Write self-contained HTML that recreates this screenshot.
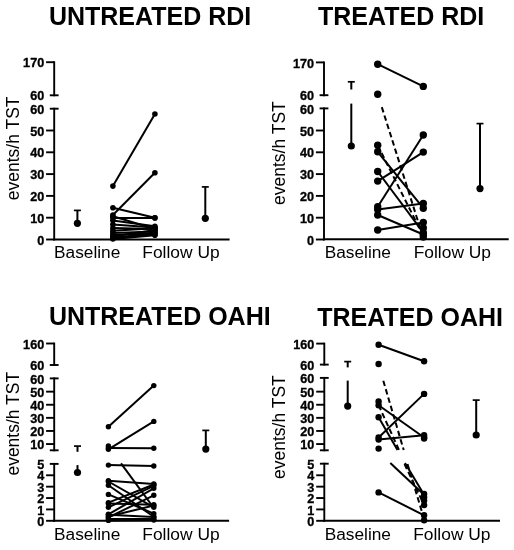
<!DOCTYPE html>
<html><head><meta charset="utf-8"><title>RDI and OAHI, untreated vs treated</title>
<style>
html,body{margin:0;padding:0;background:#fff;}
svg{display:block;}
text{fill:#000;}
</style></head>
<body>
<svg width="514" height="550" viewBox="0 0 514 550">
<rect width="514" height="550" fill="#fff"/>
<text x="48.90" y="25.10" font-size="25" font-family="Liberation Sans, Arial, Helvetica, sans-serif" font-weight="bold" text-anchor="start">UNTREATED RDI</text>
<text x="318.00" y="25.10" font-size="25" font-family="Liberation Sans, Arial, Helvetica, sans-serif" font-weight="bold" text-anchor="start">TREATED RDI</text>
<text x="48.90" y="325.30" font-size="25" font-family="Liberation Sans, Arial, Helvetica, sans-serif" font-weight="bold" text-anchor="start">UNTREATED OAHI</text>
<text x="317.30" y="325.50" font-size="25" font-family="Liberation Sans, Arial, Helvetica, sans-serif" font-weight="bold" text-anchor="start">TREATED OAHI</text>
<line x1="54.20" y1="61.25" x2="54.20" y2="96.25" stroke="#000" stroke-width="1.9" stroke-linecap="butt"/>
<line x1="54.20" y1="107.75" x2="54.20" y2="240.45" stroke="#000" stroke-width="1.9" stroke-linecap="butt"/>
<line x1="46.10" y1="62.20" x2="54.20" y2="62.20" stroke="#000" stroke-width="1.9" stroke-linecap="butt"/>
<text transform="translate(44.20 67.30) scale(0.95 1)" font-size="13.3" font-family="Liberation Sans, Arial, Helvetica, sans-serif" font-weight="bold" text-anchor="end" stroke="#000" stroke-width="0.35">170</text>
<line x1="46.10" y1="239.50" x2="54.20" y2="239.50" stroke="#000" stroke-width="1.9" stroke-linecap="butt"/>
<text transform="translate(44.20 244.60) scale(0.95 1)" font-size="13.3" font-family="Liberation Sans, Arial, Helvetica, sans-serif" font-weight="bold" text-anchor="end" stroke="#000" stroke-width="0.35">0</text>
<line x1="46.10" y1="217.70" x2="54.20" y2="217.70" stroke="#000" stroke-width="1.9" stroke-linecap="butt"/>
<text transform="translate(44.20 222.80) scale(0.95 1)" font-size="13.3" font-family="Liberation Sans, Arial, Helvetica, sans-serif" font-weight="bold" text-anchor="end" stroke="#000" stroke-width="0.35">10</text>
<line x1="46.10" y1="195.90" x2="54.20" y2="195.90" stroke="#000" stroke-width="1.9" stroke-linecap="butt"/>
<text transform="translate(44.20 201.00) scale(0.95 1)" font-size="13.3" font-family="Liberation Sans, Arial, Helvetica, sans-serif" font-weight="bold" text-anchor="end" stroke="#000" stroke-width="0.35">20</text>
<line x1="46.10" y1="174.10" x2="54.20" y2="174.10" stroke="#000" stroke-width="1.9" stroke-linecap="butt"/>
<text transform="translate(44.20 179.20) scale(0.95 1)" font-size="13.3" font-family="Liberation Sans, Arial, Helvetica, sans-serif" font-weight="bold" text-anchor="end" stroke="#000" stroke-width="0.35">30</text>
<line x1="46.10" y1="152.30" x2="54.20" y2="152.30" stroke="#000" stroke-width="1.9" stroke-linecap="butt"/>
<text transform="translate(44.20 157.40) scale(0.95 1)" font-size="13.3" font-family="Liberation Sans, Arial, Helvetica, sans-serif" font-weight="bold" text-anchor="end" stroke="#000" stroke-width="0.35">40</text>
<line x1="46.10" y1="130.50" x2="54.20" y2="130.50" stroke="#000" stroke-width="1.9" stroke-linecap="butt"/>
<text transform="translate(44.20 135.60) scale(0.95 1)" font-size="13.3" font-family="Liberation Sans, Arial, Helvetica, sans-serif" font-weight="bold" text-anchor="end" stroke="#000" stroke-width="0.35">50</text>
<line x1="49.80" y1="95.30" x2="58.60" y2="95.30" stroke="#000" stroke-width="1.9" stroke-linecap="butt"/>
<text transform="translate(44.20 100.40) scale(0.95 1)" font-size="13.3" font-family="Liberation Sans, Arial, Helvetica, sans-serif" font-weight="bold" text-anchor="end" stroke="#000" stroke-width="0.35">60</text>
<line x1="49.80" y1="108.70" x2="58.60" y2="108.70" stroke="#000" stroke-width="1.9" stroke-linecap="butt"/>
<text transform="translate(44.20 113.80) scale(0.95 1)" font-size="13.3" font-family="Liberation Sans, Arial, Helvetica, sans-serif" font-weight="bold" text-anchor="end" stroke="#000" stroke-width="0.35">60</text>
<line x1="53.25" y1="239.50" x2="229.60" y2="239.50" stroke="#000" stroke-width="1.9" stroke-linecap="butt"/>
<text x="19.30" y="200.20" font-size="17.5" font-family="Liberation Sans, Arial, Helvetica, sans-serif" text-anchor="start" transform="rotate(-90 19.30 200.20)">events/h TST</text>
<text x="54.00" y="258.00" font-size="17.3" font-family="Liberation Sans, Arial, Helvetica, sans-serif" text-anchor="start">Baseline</text>
<text x="142.30" y="258.00" font-size="17.4" font-family="Liberation Sans, Arial, Helvetica, sans-serif" text-anchor="start">Follow Up</text>
<line x1="112.90" y1="186.10" x2="154.90" y2="114.00" stroke="#000" stroke-width="2.0" stroke-linecap="butt"/>
<circle cx="112.90" cy="186.10" r="2.8" fill="#000"/>
<circle cx="154.90" cy="114.00" r="2.8" fill="#000"/>
<line x1="112.90" y1="207.80" x2="154.90" y2="217.70" stroke="#000" stroke-width="2.0" stroke-linecap="butt"/>
<circle cx="112.90" cy="207.80" r="2.8" fill="#000"/>
<circle cx="154.90" cy="217.70" r="2.8" fill="#000"/>
<line x1="112.90" y1="215.00" x2="154.90" y2="172.80" stroke="#000" stroke-width="2.0" stroke-linecap="butt"/>
<circle cx="112.90" cy="215.00" r="2.8" fill="#000"/>
<circle cx="154.90" cy="172.80" r="2.8" fill="#000"/>
<line x1="112.90" y1="216.20" x2="154.90" y2="229.00" stroke="#000" stroke-width="2.0" stroke-linecap="butt"/>
<circle cx="112.90" cy="216.20" r="2.8" fill="#000"/>
<circle cx="154.90" cy="229.00" r="2.8" fill="#000"/>
<line x1="112.90" y1="218.00" x2="154.90" y2="217.90" stroke="#000" stroke-width="2.0" stroke-linecap="butt"/>
<circle cx="112.90" cy="218.00" r="2.8" fill="#000"/>
<circle cx="154.90" cy="217.90" r="2.8" fill="#000"/>
<line x1="112.90" y1="220.60" x2="154.90" y2="226.30" stroke="#000" stroke-width="2.0" stroke-linecap="butt"/>
<circle cx="112.90" cy="220.60" r="2.8" fill="#000"/>
<circle cx="154.90" cy="226.30" r="2.8" fill="#000"/>
<line x1="112.90" y1="224.60" x2="154.90" y2="227.60" stroke="#000" stroke-width="2.0" stroke-linecap="butt"/>
<circle cx="112.90" cy="224.60" r="2.8" fill="#000"/>
<circle cx="154.90" cy="227.60" r="2.8" fill="#000"/>
<line x1="112.90" y1="228.00" x2="154.90" y2="229.00" stroke="#000" stroke-width="2.0" stroke-linecap="butt"/>
<circle cx="112.90" cy="228.00" r="2.8" fill="#000"/>
<circle cx="154.90" cy="229.00" r="2.8" fill="#000"/>
<line x1="112.90" y1="230.80" x2="154.90" y2="228.20" stroke="#000" stroke-width="2.0" stroke-linecap="butt"/>
<circle cx="112.90" cy="230.80" r="2.8" fill="#000"/>
<circle cx="154.90" cy="228.20" r="2.8" fill="#000"/>
<line x1="112.90" y1="233.00" x2="154.90" y2="231.50" stroke="#000" stroke-width="2.0" stroke-linecap="butt"/>
<circle cx="112.90" cy="233.00" r="2.8" fill="#000"/>
<circle cx="154.90" cy="231.50" r="2.8" fill="#000"/>
<line x1="112.90" y1="235.00" x2="154.90" y2="233.00" stroke="#000" stroke-width="2.0" stroke-linecap="butt"/>
<circle cx="112.90" cy="235.00" r="2.8" fill="#000"/>
<circle cx="154.90" cy="233.00" r="2.8" fill="#000"/>
<line x1="112.90" y1="236.50" x2="154.90" y2="230.00" stroke="#000" stroke-width="2.0" stroke-linecap="butt"/>
<circle cx="112.90" cy="236.50" r="2.8" fill="#000"/>
<circle cx="154.90" cy="230.00" r="2.8" fill="#000"/>
<line x1="112.90" y1="237.50" x2="154.90" y2="234.50" stroke="#000" stroke-width="2.0" stroke-linecap="butt"/>
<circle cx="112.90" cy="237.50" r="2.8" fill="#000"/>
<circle cx="154.90" cy="234.50" r="2.8" fill="#000"/>
<line x1="112.90" y1="238.50" x2="154.90" y2="232.50" stroke="#000" stroke-width="2.0" stroke-linecap="butt"/>
<circle cx="112.90" cy="238.50" r="2.8" fill="#000"/>
<circle cx="154.90" cy="232.50" r="2.8" fill="#000"/>
<line x1="112.90" y1="239.00" x2="154.90" y2="235.30" stroke="#000" stroke-width="2.0" stroke-linecap="butt"/>
<circle cx="112.90" cy="239.00" r="2.8" fill="#000"/>
<circle cx="154.90" cy="235.30" r="2.8" fill="#000"/>
<line x1="77.40" y1="210.40" x2="77.40" y2="223.30" stroke="#000" stroke-width="2.0" stroke-linecap="butt"/>
<line x1="73.90" y1="210.40" x2="80.90" y2="210.40" stroke="#000" stroke-width="1.7" stroke-linecap="butt"/>
<circle cx="77.40" cy="223.30" r="3.6" fill="#000"/>
<line x1="205.30" y1="186.90" x2="205.30" y2="218.30" stroke="#000" stroke-width="2.0" stroke-linecap="butt"/>
<line x1="201.80" y1="186.90" x2="208.80" y2="186.90" stroke="#000" stroke-width="1.7" stroke-linecap="butt"/>
<circle cx="205.30" cy="218.30" r="3.6" fill="#000"/>
<line x1="324.00" y1="61.45" x2="324.00" y2="96.15" stroke="#000" stroke-width="1.9" stroke-linecap="butt"/>
<line x1="324.00" y1="107.45" x2="324.00" y2="240.45" stroke="#000" stroke-width="1.9" stroke-linecap="butt"/>
<line x1="315.90" y1="62.40" x2="324.00" y2="62.40" stroke="#000" stroke-width="1.9" stroke-linecap="butt"/>
<text transform="translate(314.00 67.50) scale(0.95 1)" font-size="13.3" font-family="Liberation Sans, Arial, Helvetica, sans-serif" font-weight="bold" text-anchor="end" stroke="#000" stroke-width="0.35">170</text>
<line x1="315.90" y1="239.50" x2="324.00" y2="239.50" stroke="#000" stroke-width="1.9" stroke-linecap="butt"/>
<text transform="translate(314.00 244.60) scale(0.95 1)" font-size="13.3" font-family="Liberation Sans, Arial, Helvetica, sans-serif" font-weight="bold" text-anchor="end" stroke="#000" stroke-width="0.35">0</text>
<line x1="315.90" y1="217.70" x2="324.00" y2="217.70" stroke="#000" stroke-width="1.9" stroke-linecap="butt"/>
<text transform="translate(314.00 222.80) scale(0.95 1)" font-size="13.3" font-family="Liberation Sans, Arial, Helvetica, sans-serif" font-weight="bold" text-anchor="end" stroke="#000" stroke-width="0.35">10</text>
<line x1="315.90" y1="195.90" x2="324.00" y2="195.90" stroke="#000" stroke-width="1.9" stroke-linecap="butt"/>
<text transform="translate(314.00 201.00) scale(0.95 1)" font-size="13.3" font-family="Liberation Sans, Arial, Helvetica, sans-serif" font-weight="bold" text-anchor="end" stroke="#000" stroke-width="0.35">20</text>
<line x1="315.90" y1="174.10" x2="324.00" y2="174.10" stroke="#000" stroke-width="1.9" stroke-linecap="butt"/>
<text transform="translate(314.00 179.20) scale(0.95 1)" font-size="13.3" font-family="Liberation Sans, Arial, Helvetica, sans-serif" font-weight="bold" text-anchor="end" stroke="#000" stroke-width="0.35">30</text>
<line x1="315.90" y1="152.30" x2="324.00" y2="152.30" stroke="#000" stroke-width="1.9" stroke-linecap="butt"/>
<text transform="translate(314.00 157.40) scale(0.95 1)" font-size="13.3" font-family="Liberation Sans, Arial, Helvetica, sans-serif" font-weight="bold" text-anchor="end" stroke="#000" stroke-width="0.35">40</text>
<line x1="315.90" y1="130.50" x2="324.00" y2="130.50" stroke="#000" stroke-width="1.9" stroke-linecap="butt"/>
<text transform="translate(314.00 135.60) scale(0.95 1)" font-size="13.3" font-family="Liberation Sans, Arial, Helvetica, sans-serif" font-weight="bold" text-anchor="end" stroke="#000" stroke-width="0.35">50</text>
<line x1="319.60" y1="95.20" x2="328.40" y2="95.20" stroke="#000" stroke-width="1.9" stroke-linecap="butt"/>
<text transform="translate(314.00 100.30) scale(0.95 1)" font-size="13.3" font-family="Liberation Sans, Arial, Helvetica, sans-serif" font-weight="bold" text-anchor="end" stroke="#000" stroke-width="0.35">60</text>
<line x1="319.60" y1="108.40" x2="328.40" y2="108.40" stroke="#000" stroke-width="1.9" stroke-linecap="butt"/>
<text transform="translate(314.00 113.50) scale(0.95 1)" font-size="13.3" font-family="Liberation Sans, Arial, Helvetica, sans-serif" font-weight="bold" text-anchor="end" stroke="#000" stroke-width="0.35">60</text>
<line x1="323.05" y1="239.30" x2="508.70" y2="239.30" stroke="#000" stroke-width="1.9" stroke-linecap="butt"/>
<text x="284.50" y="205.00" font-size="17.5" font-family="Liberation Sans, Arial, Helvetica, sans-serif" text-anchor="start" transform="rotate(-90 284.50 205.00)">events/h TST</text>
<text x="324.70" y="257.80" font-size="17.3" font-family="Liberation Sans, Arial, Helvetica, sans-serif" text-anchor="start">Baseline</text>
<text x="413.70" y="257.80" font-size="17.4" font-family="Liberation Sans, Arial, Helvetica, sans-serif" text-anchor="start">Follow Up</text>
<line x1="377.70" y1="64.20" x2="423.30" y2="86.40" stroke="#000" stroke-width="2.0" stroke-linecap="butt"/>
<circle cx="377.70" cy="64.20" r="3.7" fill="#000"/>
<circle cx="423.30" cy="86.40" r="3.7" fill="#000"/>
<line x1="377.70" y1="151.80" x2="423.30" y2="208.20" stroke="#000" stroke-width="2.0" stroke-linecap="butt"/>
<circle cx="377.70" cy="151.80" r="3.7" fill="#000"/>
<circle cx="423.30" cy="208.20" r="3.7" fill="#000"/>
<line x1="377.70" y1="171.50" x2="423.30" y2="232.70" stroke="#000" stroke-width="2.0" stroke-linecap="butt"/>
<circle cx="377.70" cy="171.50" r="3.7" fill="#000"/>
<circle cx="423.30" cy="232.70" r="3.7" fill="#000"/>
<line x1="377.70" y1="181.10" x2="423.30" y2="152.10" stroke="#000" stroke-width="2.0" stroke-linecap="butt"/>
<circle cx="377.70" cy="181.10" r="3.7" fill="#000"/>
<circle cx="423.30" cy="152.10" r="3.7" fill="#000"/>
<line x1="377.70" y1="206.80" x2="423.30" y2="135.00" stroke="#000" stroke-width="2.0" stroke-linecap="butt"/>
<circle cx="377.70" cy="206.80" r="3.7" fill="#000"/>
<circle cx="423.30" cy="135.00" r="3.7" fill="#000"/>
<line x1="377.70" y1="209.50" x2="423.30" y2="203.40" stroke="#000" stroke-width="2.0" stroke-linecap="butt"/>
<circle cx="377.70" cy="209.50" r="3.7" fill="#000"/>
<circle cx="423.30" cy="203.40" r="3.7" fill="#000"/>
<line x1="377.70" y1="215.00" x2="423.30" y2="234.50" stroke="#000" stroke-width="2.0" stroke-linecap="butt"/>
<circle cx="377.70" cy="215.00" r="3.7" fill="#000"/>
<circle cx="423.30" cy="234.50" r="3.7" fill="#000"/>
<line x1="377.70" y1="230.00" x2="423.30" y2="222.50" stroke="#000" stroke-width="2.0" stroke-linecap="butt"/>
<circle cx="377.70" cy="230.00" r="3.7" fill="#000"/>
<circle cx="423.30" cy="222.50" r="3.7" fill="#000"/>
<circle cx="377.70" cy="94.20" r="3.7" fill="#000"/>
<circle cx="423.30" cy="237.00" r="3.7" fill="#000"/>
<line x1="381.80" y1="107.14" x2="423.30" y2="238.00" stroke="#000" stroke-width="2.0" stroke-linecap="butt" stroke-dasharray="5.5 3.2"/>
<circle cx="377.70" cy="145.30" r="3.7" fill="#000"/>
<circle cx="423.30" cy="228.00" r="3.7" fill="#000"/>
<line x1="377.70" y1="145.30" x2="423.30" y2="236.00" stroke="#000" stroke-width="2.0" stroke-linecap="butt" stroke-dasharray="5.5 3.2"/>
<line x1="351.30" y1="81.80" x2="351.30" y2="89.50" stroke="#000" stroke-width="2.0" stroke-linecap="butt"/>
<line x1="351.30" y1="103.60" x2="351.30" y2="146.00" stroke="#000" stroke-width="2.0" stroke-linecap="butt"/>
<line x1="347.80" y1="81.80" x2="354.80" y2="81.80" stroke="#000" stroke-width="1.7" stroke-linecap="butt"/>
<circle cx="351.30" cy="146.00" r="3.6" fill="#000"/>
<line x1="480.00" y1="123.60" x2="480.00" y2="188.60" stroke="#000" stroke-width="2.0" stroke-linecap="butt"/>
<line x1="476.50" y1="123.60" x2="483.50" y2="123.60" stroke="#000" stroke-width="1.7" stroke-linecap="butt"/>
<circle cx="480.00" cy="188.60" r="3.6" fill="#000"/>
<line x1="54.20" y1="342.55" x2="54.20" y2="365.95" stroke="#000" stroke-width="1.9" stroke-linecap="butt"/>
<line x1="54.20" y1="377.45" x2="54.20" y2="451.25" stroke="#000" stroke-width="1.9" stroke-linecap="butt"/>
<line x1="54.20" y1="462.95" x2="54.20" y2="521.75" stroke="#000" stroke-width="1.9" stroke-linecap="butt"/>
<line x1="46.10" y1="343.50" x2="54.20" y2="343.50" stroke="#000" stroke-width="1.9" stroke-linecap="butt"/>
<text transform="translate(44.20 348.60) scale(0.95 1)" font-size="13.3" font-family="Liberation Sans, Arial, Helvetica, sans-serif" font-weight="bold" text-anchor="end" stroke="#000" stroke-width="0.35">160</text>
<line x1="46.10" y1="444.05" x2="54.20" y2="444.05" stroke="#000" stroke-width="1.9" stroke-linecap="butt"/>
<text transform="translate(44.20 449.15) scale(0.95 1)" font-size="13.3" font-family="Liberation Sans, Arial, Helvetica, sans-serif" font-weight="bold" text-anchor="end" stroke="#000" stroke-width="0.35">10</text>
<line x1="46.10" y1="430.95" x2="54.20" y2="430.95" stroke="#000" stroke-width="1.9" stroke-linecap="butt"/>
<text transform="translate(44.20 436.05) scale(0.95 1)" font-size="13.3" font-family="Liberation Sans, Arial, Helvetica, sans-serif" font-weight="bold" text-anchor="end" stroke="#000" stroke-width="0.35">20</text>
<line x1="46.10" y1="417.85" x2="54.20" y2="417.85" stroke="#000" stroke-width="1.9" stroke-linecap="butt"/>
<text transform="translate(44.20 422.95) scale(0.95 1)" font-size="13.3" font-family="Liberation Sans, Arial, Helvetica, sans-serif" font-weight="bold" text-anchor="end" stroke="#000" stroke-width="0.35">30</text>
<line x1="46.10" y1="404.75" x2="54.20" y2="404.75" stroke="#000" stroke-width="1.9" stroke-linecap="butt"/>
<text transform="translate(44.20 409.85) scale(0.95 1)" font-size="13.3" font-family="Liberation Sans, Arial, Helvetica, sans-serif" font-weight="bold" text-anchor="end" stroke="#000" stroke-width="0.35">40</text>
<line x1="46.10" y1="391.65" x2="54.20" y2="391.65" stroke="#000" stroke-width="1.9" stroke-linecap="butt"/>
<text transform="translate(44.20 396.75) scale(0.95 1)" font-size="13.3" font-family="Liberation Sans, Arial, Helvetica, sans-serif" font-weight="bold" text-anchor="end" stroke="#000" stroke-width="0.35">50</text>
<line x1="46.10" y1="520.80" x2="54.20" y2="520.80" stroke="#000" stroke-width="1.9" stroke-linecap="butt"/>
<text transform="translate(44.20 525.90) scale(0.95 1)" font-size="13.3" font-family="Liberation Sans, Arial, Helvetica, sans-serif" font-weight="bold" text-anchor="end" stroke="#000" stroke-width="0.35">0</text>
<line x1="46.10" y1="509.42" x2="54.20" y2="509.42" stroke="#000" stroke-width="1.9" stroke-linecap="butt"/>
<text transform="translate(44.20 514.52) scale(0.95 1)" font-size="13.3" font-family="Liberation Sans, Arial, Helvetica, sans-serif" font-weight="bold" text-anchor="end" stroke="#000" stroke-width="0.35">1</text>
<line x1="46.10" y1="498.04" x2="54.20" y2="498.04" stroke="#000" stroke-width="1.9" stroke-linecap="butt"/>
<text transform="translate(44.20 503.14) scale(0.95 1)" font-size="13.3" font-family="Liberation Sans, Arial, Helvetica, sans-serif" font-weight="bold" text-anchor="end" stroke="#000" stroke-width="0.35">2</text>
<line x1="46.10" y1="486.66" x2="54.20" y2="486.66" stroke="#000" stroke-width="1.9" stroke-linecap="butt"/>
<text transform="translate(44.20 491.76) scale(0.95 1)" font-size="13.3" font-family="Liberation Sans, Arial, Helvetica, sans-serif" font-weight="bold" text-anchor="end" stroke="#000" stroke-width="0.35">3</text>
<line x1="46.10" y1="475.28" x2="54.20" y2="475.28" stroke="#000" stroke-width="1.9" stroke-linecap="butt"/>
<text transform="translate(44.20 480.38) scale(0.95 1)" font-size="13.3" font-family="Liberation Sans, Arial, Helvetica, sans-serif" font-weight="bold" text-anchor="end" stroke="#000" stroke-width="0.35">4</text>
<line x1="49.80" y1="365.00" x2="58.60" y2="365.00" stroke="#000" stroke-width="1.9" stroke-linecap="butt"/>
<text transform="translate(44.20 370.10) scale(0.95 1)" font-size="13.3" font-family="Liberation Sans, Arial, Helvetica, sans-serif" font-weight="bold" text-anchor="end" stroke="#000" stroke-width="0.35">60</text>
<line x1="49.80" y1="378.40" x2="58.60" y2="378.40" stroke="#000" stroke-width="1.9" stroke-linecap="butt"/>
<text transform="translate(44.20 383.50) scale(0.95 1)" font-size="13.3" font-family="Liberation Sans, Arial, Helvetica, sans-serif" font-weight="bold" text-anchor="end" stroke="#000" stroke-width="0.35">60</text>
<line x1="49.80" y1="450.30" x2="58.60" y2="450.30" stroke="#000" stroke-width="1.9" stroke-linecap="butt"/>
<line x1="49.80" y1="463.90" x2="58.60" y2="463.90" stroke="#000" stroke-width="1.9" stroke-linecap="butt"/>
<text transform="translate(44.20 469.00) scale(0.95 1)" font-size="13.3" font-family="Liberation Sans, Arial, Helvetica, sans-serif" font-weight="bold" text-anchor="end" stroke="#000" stroke-width="0.35">5</text>
<line x1="53.25" y1="520.80" x2="229.10" y2="520.80" stroke="#000" stroke-width="1.9" stroke-linecap="butt"/>
<text x="19.30" y="475.60" font-size="17.5" font-family="Liberation Sans, Arial, Helvetica, sans-serif" text-anchor="start" transform="rotate(-90 19.30 475.60)">events/h TST</text>
<text x="54.00" y="540.20" font-size="17.3" font-family="Liberation Sans, Arial, Helvetica, sans-serif" text-anchor="start">Baseline</text>
<text x="142.30" y="540.20" font-size="17.4" font-family="Liberation Sans, Arial, Helvetica, sans-serif" text-anchor="start">Follow Up</text>
<line x1="108.40" y1="426.70" x2="153.80" y2="385.60" stroke="#000" stroke-width="2.0" stroke-linecap="butt"/>
<circle cx="108.40" cy="426.70" r="2.7" fill="#000"/>
<circle cx="153.80" cy="385.60" r="2.7" fill="#000"/>
<line x1="108.40" y1="449.30" x2="153.80" y2="421.40" stroke="#000" stroke-width="2.0" stroke-linecap="butt"/>
<circle cx="108.40" cy="449.30" r="2.7" fill="#000"/>
<circle cx="153.80" cy="421.40" r="2.7" fill="#000"/>
<line x1="108.40" y1="448.00" x2="153.80" y2="448.20" stroke="#000" stroke-width="2.0" stroke-linecap="butt"/>
<circle cx="108.40" cy="448.00" r="2.7" fill="#000"/>
<circle cx="153.80" cy="448.20" r="2.7" fill="#000"/>
<line x1="108.40" y1="465.10" x2="153.80" y2="466.00" stroke="#000" stroke-width="2.0" stroke-linecap="butt"/>
<circle cx="108.40" cy="465.10" r="2.7" fill="#000"/>
<circle cx="153.80" cy="466.00" r="2.7" fill="#000"/>
<line x1="108.40" y1="480.70" x2="153.80" y2="483.90" stroke="#000" stroke-width="2.0" stroke-linecap="butt"/>
<circle cx="108.40" cy="480.70" r="2.7" fill="#000"/>
<circle cx="153.80" cy="483.90" r="2.7" fill="#000"/>
<line x1="108.40" y1="481.50" x2="153.80" y2="507.30" stroke="#000" stroke-width="2.0" stroke-linecap="butt"/>
<circle cx="108.40" cy="481.50" r="2.7" fill="#000"/>
<circle cx="153.80" cy="507.30" r="2.7" fill="#000"/>
<line x1="108.40" y1="485.20" x2="153.80" y2="516.80" stroke="#000" stroke-width="2.0" stroke-linecap="butt"/>
<circle cx="108.40" cy="485.20" r="2.7" fill="#000"/>
<circle cx="153.80" cy="516.80" r="2.7" fill="#000"/>
<line x1="108.40" y1="494.40" x2="153.80" y2="513.60" stroke="#000" stroke-width="2.0" stroke-linecap="butt"/>
<circle cx="108.40" cy="494.40" r="2.7" fill="#000"/>
<circle cx="153.80" cy="513.60" r="2.7" fill="#000"/>
<line x1="108.40" y1="502.60" x2="153.80" y2="484.50" stroke="#000" stroke-width="2.0" stroke-linecap="butt"/>
<circle cx="108.40" cy="502.60" r="2.7" fill="#000"/>
<circle cx="153.80" cy="484.50" r="2.7" fill="#000"/>
<line x1="108.40" y1="507.30" x2="153.80" y2="485.80" stroke="#000" stroke-width="2.0" stroke-linecap="butt"/>
<circle cx="108.40" cy="507.30" r="2.7" fill="#000"/>
<circle cx="153.80" cy="485.80" r="2.7" fill="#000"/>
<line x1="108.40" y1="503.50" x2="153.80" y2="504.80" stroke="#000" stroke-width="2.0" stroke-linecap="butt"/>
<circle cx="108.40" cy="503.50" r="2.7" fill="#000"/>
<circle cx="153.80" cy="504.80" r="2.7" fill="#000"/>
<line x1="108.40" y1="514.30" x2="153.80" y2="488.30" stroke="#000" stroke-width="2.0" stroke-linecap="butt"/>
<circle cx="108.40" cy="514.30" r="2.7" fill="#000"/>
<circle cx="153.80" cy="488.30" r="2.7" fill="#000"/>
<line x1="108.40" y1="517.40" x2="153.80" y2="495.30" stroke="#000" stroke-width="2.0" stroke-linecap="butt"/>
<circle cx="108.40" cy="517.40" r="2.7" fill="#000"/>
<circle cx="153.80" cy="495.30" r="2.7" fill="#000"/>
<line x1="108.40" y1="516.50" x2="153.80" y2="505.50" stroke="#000" stroke-width="2.0" stroke-linecap="butt"/>
<circle cx="108.40" cy="516.50" r="2.7" fill="#000"/>
<circle cx="153.80" cy="505.50" r="2.7" fill="#000"/>
<line x1="108.40" y1="520.40" x2="153.80" y2="520.00" stroke="#000" stroke-width="2.0" stroke-linecap="butt"/>
<circle cx="108.40" cy="520.40" r="2.7" fill="#000"/>
<circle cx="153.80" cy="520.00" r="2.7" fill="#000"/>
<line x1="108.40" y1="514.80" x2="153.80" y2="517.00" stroke="#000" stroke-width="2.0" stroke-linecap="butt"/>
<circle cx="108.40" cy="514.80" r="2.7" fill="#000"/>
<circle cx="153.80" cy="517.00" r="2.7" fill="#000"/>
<line x1="108.40" y1="519.00" x2="153.80" y2="519.00" stroke="#000" stroke-width="2.0" stroke-linecap="butt"/>
<circle cx="108.40" cy="519.00" r="2.7" fill="#000"/>
<circle cx="153.80" cy="519.00" r="2.7" fill="#000"/>
<line x1="121.00" y1="463.30" x2="153.80" y2="508.00" stroke="#000" stroke-width="2.0" stroke-linecap="butt"/>
<circle cx="108.40" cy="446.00" r="2.7" fill="#000"/>
<line x1="77.50" y1="446.10" x2="77.50" y2="451.80" stroke="#000" stroke-width="2.0" stroke-linecap="butt"/>
<line x1="77.50" y1="465.10" x2="77.50" y2="472.50" stroke="#000" stroke-width="2.0" stroke-linecap="butt"/>
<line x1="74.00" y1="446.10" x2="81.00" y2="446.10" stroke="#000" stroke-width="1.7" stroke-linecap="butt"/>
<circle cx="77.50" cy="472.50" r="3.6" fill="#000"/>
<line x1="205.80" y1="430.40" x2="205.80" y2="449.10" stroke="#000" stroke-width="2.0" stroke-linecap="butt"/>
<line x1="202.30" y1="430.40" x2="209.30" y2="430.40" stroke="#000" stroke-width="1.7" stroke-linecap="butt"/>
<circle cx="205.80" cy="449.10" r="3.6" fill="#000"/>
<line x1="324.30" y1="342.65" x2="324.30" y2="365.55" stroke="#000" stroke-width="1.9" stroke-linecap="butt"/>
<line x1="324.30" y1="376.95" x2="324.30" y2="451.25" stroke="#000" stroke-width="1.9" stroke-linecap="butt"/>
<line x1="324.30" y1="462.75" x2="324.30" y2="521.75" stroke="#000" stroke-width="1.9" stroke-linecap="butt"/>
<line x1="316.20" y1="343.60" x2="324.30" y2="343.60" stroke="#000" stroke-width="1.9" stroke-linecap="butt"/>
<text transform="translate(314.30 348.70) scale(0.95 1)" font-size="13.3" font-family="Liberation Sans, Arial, Helvetica, sans-serif" font-weight="bold" text-anchor="end" stroke="#000" stroke-width="0.35">160</text>
<line x1="316.20" y1="444.05" x2="324.30" y2="444.05" stroke="#000" stroke-width="1.9" stroke-linecap="butt"/>
<text transform="translate(314.30 449.15) scale(0.95 1)" font-size="13.3" font-family="Liberation Sans, Arial, Helvetica, sans-serif" font-weight="bold" text-anchor="end" stroke="#000" stroke-width="0.35">10</text>
<line x1="316.20" y1="430.95" x2="324.30" y2="430.95" stroke="#000" stroke-width="1.9" stroke-linecap="butt"/>
<text transform="translate(314.30 436.05) scale(0.95 1)" font-size="13.3" font-family="Liberation Sans, Arial, Helvetica, sans-serif" font-weight="bold" text-anchor="end" stroke="#000" stroke-width="0.35">20</text>
<line x1="316.20" y1="417.85" x2="324.30" y2="417.85" stroke="#000" stroke-width="1.9" stroke-linecap="butt"/>
<text transform="translate(314.30 422.95) scale(0.95 1)" font-size="13.3" font-family="Liberation Sans, Arial, Helvetica, sans-serif" font-weight="bold" text-anchor="end" stroke="#000" stroke-width="0.35">30</text>
<line x1="316.20" y1="404.75" x2="324.30" y2="404.75" stroke="#000" stroke-width="1.9" stroke-linecap="butt"/>
<text transform="translate(314.30 409.85) scale(0.95 1)" font-size="13.3" font-family="Liberation Sans, Arial, Helvetica, sans-serif" font-weight="bold" text-anchor="end" stroke="#000" stroke-width="0.35">40</text>
<line x1="316.20" y1="391.65" x2="324.30" y2="391.65" stroke="#000" stroke-width="1.9" stroke-linecap="butt"/>
<text transform="translate(314.30 396.75) scale(0.95 1)" font-size="13.3" font-family="Liberation Sans, Arial, Helvetica, sans-serif" font-weight="bold" text-anchor="end" stroke="#000" stroke-width="0.35">50</text>
<line x1="316.20" y1="520.80" x2="324.30" y2="520.80" stroke="#000" stroke-width="1.9" stroke-linecap="butt"/>
<text transform="translate(314.30 525.90) scale(0.95 1)" font-size="13.3" font-family="Liberation Sans, Arial, Helvetica, sans-serif" font-weight="bold" text-anchor="end" stroke="#000" stroke-width="0.35">0</text>
<line x1="316.20" y1="509.42" x2="324.30" y2="509.42" stroke="#000" stroke-width="1.9" stroke-linecap="butt"/>
<text transform="translate(314.30 514.52) scale(0.95 1)" font-size="13.3" font-family="Liberation Sans, Arial, Helvetica, sans-serif" font-weight="bold" text-anchor="end" stroke="#000" stroke-width="0.35">1</text>
<line x1="316.20" y1="498.04" x2="324.30" y2="498.04" stroke="#000" stroke-width="1.9" stroke-linecap="butt"/>
<text transform="translate(314.30 503.14) scale(0.95 1)" font-size="13.3" font-family="Liberation Sans, Arial, Helvetica, sans-serif" font-weight="bold" text-anchor="end" stroke="#000" stroke-width="0.35">2</text>
<line x1="316.20" y1="486.66" x2="324.30" y2="486.66" stroke="#000" stroke-width="1.9" stroke-linecap="butt"/>
<text transform="translate(314.30 491.76) scale(0.95 1)" font-size="13.3" font-family="Liberation Sans, Arial, Helvetica, sans-serif" font-weight="bold" text-anchor="end" stroke="#000" stroke-width="0.35">3</text>
<line x1="316.20" y1="475.28" x2="324.30" y2="475.28" stroke="#000" stroke-width="1.9" stroke-linecap="butt"/>
<text transform="translate(314.30 480.38) scale(0.95 1)" font-size="13.3" font-family="Liberation Sans, Arial, Helvetica, sans-serif" font-weight="bold" text-anchor="end" stroke="#000" stroke-width="0.35">4</text>
<line x1="319.90" y1="364.60" x2="328.70" y2="364.60" stroke="#000" stroke-width="1.9" stroke-linecap="butt"/>
<text transform="translate(314.30 369.70) scale(0.95 1)" font-size="13.3" font-family="Liberation Sans, Arial, Helvetica, sans-serif" font-weight="bold" text-anchor="end" stroke="#000" stroke-width="0.35">60</text>
<line x1="319.90" y1="377.90" x2="328.70" y2="377.90" stroke="#000" stroke-width="1.9" stroke-linecap="butt"/>
<text transform="translate(314.30 383.00) scale(0.95 1)" font-size="13.3" font-family="Liberation Sans, Arial, Helvetica, sans-serif" font-weight="bold" text-anchor="end" stroke="#000" stroke-width="0.35">60</text>
<line x1="319.90" y1="450.30" x2="328.70" y2="450.30" stroke="#000" stroke-width="1.9" stroke-linecap="butt"/>
<line x1="319.90" y1="463.70" x2="328.70" y2="463.70" stroke="#000" stroke-width="1.9" stroke-linecap="butt"/>
<text transform="translate(314.30 468.80) scale(0.95 1)" font-size="13.3" font-family="Liberation Sans, Arial, Helvetica, sans-serif" font-weight="bold" text-anchor="end" stroke="#000" stroke-width="0.35">5</text>
<line x1="323.35" y1="520.70" x2="500.00" y2="520.70" stroke="#000" stroke-width="1.9" stroke-linecap="butt"/>
<text x="284.70" y="479.00" font-size="17.5" font-family="Liberation Sans, Arial, Helvetica, sans-serif" text-anchor="start" transform="rotate(-90 284.70 479.00)">events/h TST</text>
<text x="324.70" y="540.20" font-size="17.3" font-family="Liberation Sans, Arial, Helvetica, sans-serif" text-anchor="start">Baseline</text>
<text x="413.20" y="540.20" font-size="17.4" font-family="Liberation Sans, Arial, Helvetica, sans-serif" text-anchor="start">Follow Up</text>
<line x1="378.60" y1="344.80" x2="424.10" y2="361.20" stroke="#000" stroke-width="2.0" stroke-linecap="butt"/>
<circle cx="378.60" cy="344.80" r="3.2" fill="#000"/>
<circle cx="424.10" cy="361.20" r="3.2" fill="#000"/>
<line x1="378.60" y1="405.20" x2="424.10" y2="437.50" stroke="#000" stroke-width="2.0" stroke-linecap="butt"/>
<circle cx="378.60" cy="405.20" r="3.2" fill="#000"/>
<circle cx="424.10" cy="437.50" r="3.2" fill="#000"/>
<line x1="378.60" y1="437.50" x2="424.10" y2="393.90" stroke="#000" stroke-width="2.0" stroke-linecap="butt"/>
<circle cx="378.60" cy="437.50" r="3.2" fill="#000"/>
<circle cx="424.10" cy="393.90" r="3.2" fill="#000"/>
<line x1="378.60" y1="439.60" x2="424.10" y2="435.30" stroke="#000" stroke-width="2.0" stroke-linecap="butt"/>
<circle cx="378.60" cy="439.60" r="3.2" fill="#000"/>
<circle cx="424.10" cy="435.30" r="3.2" fill="#000"/>
<line x1="378.60" y1="492.40" x2="424.10" y2="515.30" stroke="#000" stroke-width="2.0" stroke-linecap="butt"/>
<circle cx="378.60" cy="492.40" r="3.2" fill="#000"/>
<circle cx="424.10" cy="515.30" r="3.2" fill="#000"/>
<circle cx="378.60" cy="364.00" r="3.2" fill="#000"/>
<circle cx="378.60" cy="401.50" r="3.2" fill="#000"/>
<circle cx="378.60" cy="417.20" r="3.2" fill="#000"/>
<circle cx="378.60" cy="448.60" r="3.2" fill="#000"/>
<circle cx="424.10" cy="438.50" r="3.2" fill="#000"/>
<circle cx="424.10" cy="494.00" r="3.2" fill="#000"/>
<circle cx="424.10" cy="497.30" r="3.2" fill="#000"/>
<circle cx="424.10" cy="500.60" r="3.2" fill="#000"/>
<circle cx="424.10" cy="505.10" r="3.2" fill="#000"/>
<circle cx="424.10" cy="520.20" r="3.2" fill="#000"/>
<line x1="378.60" y1="417.20" x2="397.50" y2="450.00" stroke="#000" stroke-width="2.0" stroke-linecap="butt"/>
<line x1="378.60" y1="405.20" x2="399.00" y2="450.00" stroke="#000" stroke-width="2.0" stroke-linecap="butt" stroke-dasharray="5.5 3.2"/>
<line x1="383.30" y1="380.80" x2="403.70" y2="450.00" stroke="#000" stroke-width="2.0" stroke-linecap="butt" stroke-dasharray="5.5 3.2"/>
<line x1="390.30" y1="462.90" x2="424.10" y2="494.80" stroke="#000" stroke-width="2.0" stroke-linecap="butt"/>
<line x1="405.00" y1="462.90" x2="424.10" y2="494.80" stroke="#000" stroke-width="2.0" stroke-linecap="butt"/>
<line x1="407.50" y1="464.00" x2="424.10" y2="519.00" stroke="#000" stroke-width="2.0" stroke-linecap="butt" stroke-dasharray="5.5 3.2"/>
<line x1="404.50" y1="464.00" x2="424.10" y2="505.00" stroke="#000" stroke-width="2.0" stroke-linecap="butt" stroke-dasharray="5.5 3.2"/>
<line x1="347.70" y1="361.60" x2="347.70" y2="367.40" stroke="#000" stroke-width="2.0" stroke-linecap="butt"/>
<line x1="347.70" y1="380.60" x2="347.70" y2="406.10" stroke="#000" stroke-width="2.0" stroke-linecap="butt"/>
<line x1="344.20" y1="361.60" x2="351.20" y2="361.60" stroke="#000" stroke-width="1.7" stroke-linecap="butt"/>
<circle cx="347.70" cy="406.10" r="3.6" fill="#000"/>
<line x1="476.20" y1="400.10" x2="476.20" y2="435.00" stroke="#000" stroke-width="2.0" stroke-linecap="butt"/>
<line x1="472.70" y1="400.10" x2="479.70" y2="400.10" stroke="#000" stroke-width="1.7" stroke-linecap="butt"/>
<circle cx="476.20" cy="435.00" r="3.6" fill="#000"/>
</svg>
</body></html>
